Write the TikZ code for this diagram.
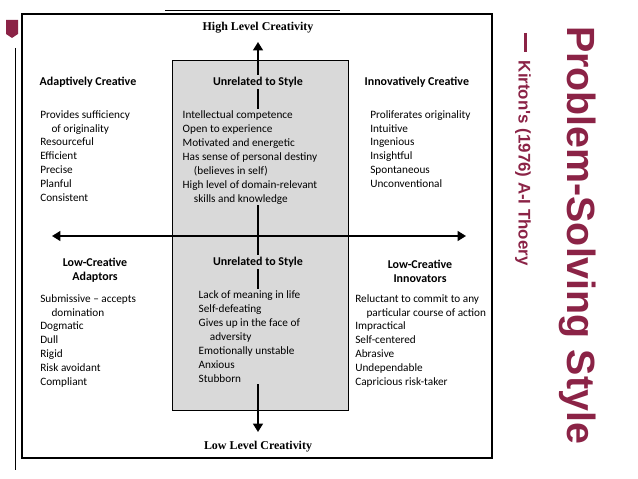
\documentclass[tikz,border=0pt]{standalone}
\usepackage{fontspec}
\setmainfont{Carlito}
\newfontfamily\titlefont{Liberation Sans}
\newfontfamily\axisfont{Liberation Serif}
\usetikzlibrary{arrows.meta}
\definecolor{maroon}{HTML}{8B2346}
\definecolor{boxgray}{HTML}{D9D9D9}
\tikzset{
  head/.style={font=\fontsize{8.5}{10}\selectfont\bfseries, inner sep=1pt},
  items/.style={font=\fontsize{8}{9.9}\selectfont, align=left, anchor=north west, inner sep=0pt},
  axis/.style={font=\axisfont\fontsize{8.5}{9}\selectfont\bfseries, inner sep=1pt},
  bigarrow/.style={line width=1.4pt, {Triangle[length=6pt,width=7pt]}-{Triangle[length=6pt,width=7pt]}}
}
\begin{document}
\begin{tikzpicture}[x=0.025cm, y=-0.025cm]
  \useasboundingbox (0,0) rectangle (638,479);
  % frame and decorations
  \draw[line width=0.5pt] (165,10) -- (340,10);
  \draw[line width=0.6pt] (15,48) -- (15,470);
  \fill[maroon] (6,20) -- (18,20) -- (18,34) -- (12,38) -- (6,34) -- cycle;
  \draw[line width=1.3pt] (22,14) rectangle (492,458);
  \draw[fill=boxgray] (172,60) rectangle (348,410);
  % axes
  \coordinate (top) at (258,42);
  \coordinate (bot) at (258,432);
  \coordinate (lft) at (52,236);
  \coordinate (rgt) at (466,236);
  \draw[bigarrow] (top) -- (bot);
  \draw[bigarrow] (lft) -- (rgt);
  \node[axis] (high) at (258,28) {High Level Creativity};
  \node[axis] (low) at (258,447) {Low Level Creativity};
  % upper quadrants
  \node[head, anchor=west] (ac) at (38,82) {Adaptively Creative};
  \node[items] (acl) at (40,110) {Provides sufficiency\\\hspace{1em}of originality\\Resourceful\\Efficient\\Precise\\Planful\\Consistent};
  \node[head, fill=boxgray] (us1) at (258,82) {Unrelated to Style};
  \node[items, fill=boxgray, inner sep=1pt] (us1l) at (181,109) {Intellectual competence\\Open to experience\\Motivated and energetic\\Has sense of personal destiny\\\hspace{1em}(believes in self)\\High level of domain-relevant\\\hspace{1em}skills and knowledge};
  \node[head, anchor=west] (ic) at (363,82) {Innovatively Creative};
  \node[items] (icl) at (370,110) {Proliferates originality\\Intuitive\\Ingenious\\Insightful\\Spontaneous\\Unconventional};
  % lower quadrants
  \node[head, align=center] (lca) at (95,270) {Low-Creative\\Adaptors};
  \node[items] (lcal) at (40,294) {Submissive -- accepts\\\hspace{1em}domination\\Dogmatic\\Dull\\Rigid\\Risk avoidant\\Compliant};
  \node[head, fill=boxgray] (us2) at (258,262) {Unrelated to Style};
  \node[items, fill=boxgray, inner sep=1pt] (us2l) at (197,289) {Lack of meaning in life\\Self-defeating\\Gives up in the face of\\\hspace{1em}adversity\\Emotionally unstable\\Anxious\\Stubborn};
  \node[head, align=center] (lci) at (420,271) {Low-Creative\\Innovators};
  \node[items] (lcil) at (355,294) {Reluctant to commit to any\\\hspace{1em}particular course of action\\Impractical\\Self-centered\\Abrasive\\Undependable\\Capricious risk-taker};
  % title
  \node[rotate=-90, text=maroon, font=\titlefont\fontsize{28}{30}\selectfont\bfseries] (title) at (578,235) {Problem-Solving Style};
  \node[rotate=-90, text=maroon, font=\titlefont\fontsize{12}{14}\selectfont\bfseries, anchor=west] (sub) at (523,28) {\rule[0.3em]{1.1em}{0.18em}\ \ Kirton's (1976) A-I Thoery};
\end{tikzpicture}
\end{document}
